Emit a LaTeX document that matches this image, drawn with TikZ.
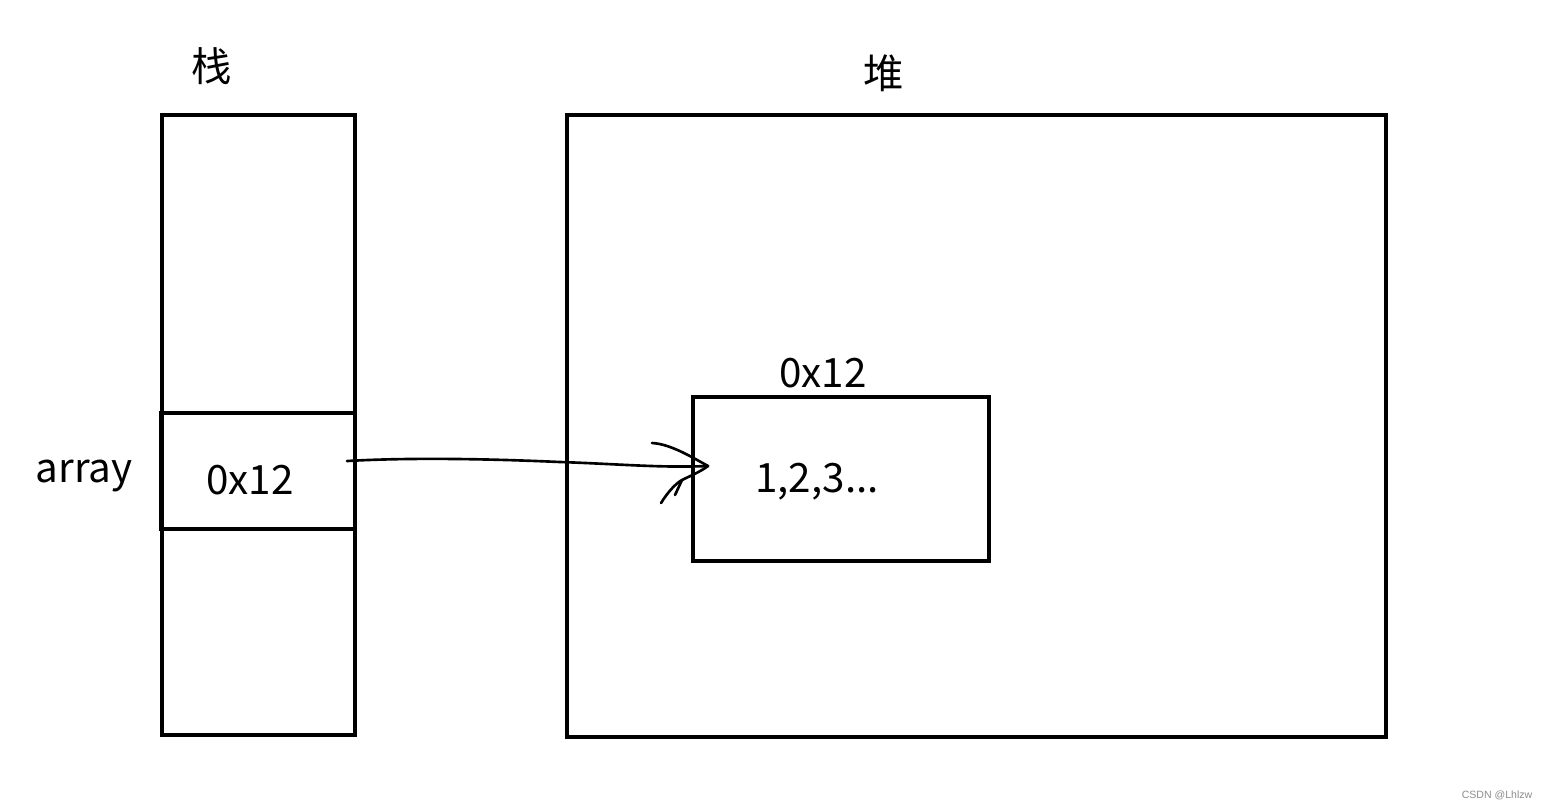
\documentclass[tikz,border=0pt]{standalone}
\usepackage{fontspec}
\setmainfont{Noto Sans CJK SC}
\newfontfamily\marksans{Liberation Sans}
\begin{document}
\begin{tikzpicture}[x=0.02cm, y=-0.02cm,
    box/.style={draw, line width=2.4pt, inner sep=0pt},
    txt/.style={font=\fontsize{23}{27}\selectfont},
    hand/.style={line width=1.5pt, line cap=round, line join=round}]
    \useasboundingbox (0,0) rectangle (1547,809);

    % The stack
    \draw[box] (162,115) rectangle (355,735);
    \node[box, minimum width=194*0.02cm, minimum height=116*0.02cm] (cell) at (258,471) {};
    \node[txt] (celltext) at (250,480) {0x12};
    \node[txt] (stack) at (212,66) {栈};
    \node[txt] (name) at (84,476) {array};

    % The heap
    \draw[box] (567,115) rectangle (1386,737);
    \node[txt] (heap) at (884,73) {堆};
    \node[box, minimum width=296*0.02cm, minimum height=164*0.02cm] (obj) at (841,479) {};
    \node[txt] (addr) at (823,373) {0x12};
    \node[txt] (values) at (817,482) {1,2,3...};

    % The reference
    \coordinate (start) at (347,461);
    \coordinate (tip) at (708,466);
    \draw[hand] (start) .. controls (400,458) and (470,458) .. (560,462)
        .. controls (620,464) and (660,468) .. (tip);
    \draw[hand] (652,443) .. controls (670,444) and (690,456) .. (tip)
        .. controls (700,472) and (690,476) .. (682,480)
        .. controls (675,484) and (668,492) .. (661,503);
    \draw[hand] (682,480) .. controls (678,488) .. (675,495);

    \node[font=\marksans\fontsize{6}{7}\selectfont, text=black!45] (mark) at (1497,795) {CSDN @Lhlzw};
\end{tikzpicture}
\end{document}
